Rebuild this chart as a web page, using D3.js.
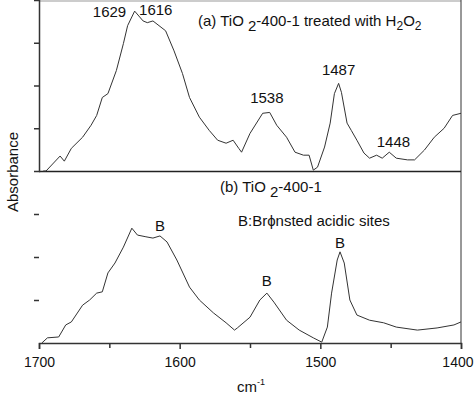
<!DOCTYPE html>
<html><head><meta charset="utf-8">
<script src="https://cdn.jsdelivr.net/npm/d3@7"></script>
<style>body{margin:0;background:#fff}text{font-family:"Liberation Sans",Arial,sans-serif;fill:#111}</style>
</head><body><div id="chart"></div>
<script>
var waveA = [1697,1695,1685,1682,1677,1669,1663,1659,1655,1651,1645,1640,1637,1632,1626,1623,1619,1610,1604,1598,1593,1586,1579,1573,1567,1562,1558,1556,1550,1541,1536,1531,1524,1518,1512,1508,1505,1502,1497,1493,1490,1487,1485,1481,1478,1474,1469,1465,1460,1456,1451,1446,1438,1433,1426,1419,1412,1406,1400];
var absA = [0,0,.35,.23,.53,.79,1.07,1.3,1.72,1.81,2.35,2.98,3.4,3.74,3.51,3.47,3.51,3.28,2.81,2.28,1.72,1.26,.95,.72,.65,.72,.53,.44,.88,1.35,1.37,1.07,.79,.44,.37,.37,.02,.09,.56,1.12,1.81,2.05,1.84,1.12,.95,.72,.42,.3,.37,.3,.44,.3,.26,.26,.49,.79,1.0,1.3,1.35];
var waveB = [1698,1694,1686,1681,1677,1669,1664,1659,1655,1651,1646,1640,1634,1630,1624,1619,1614,1609,1602,1593,1586,1576,1567,1561,1559,1550,1543,1538,1533,1524,1515,1505,1499,1495,1492,1488,1486,1483,1479,1474,1465,1455,1446,1431,1417,1405,1400];
var absB = [0,.12,.14,.42,.49,.88,1.0,1.16,1.19,1.63,1.86,2.23,2.67,2.51,2.47,2.44,2.49,2.35,1.93,1.3,1.0,.7,.47,.3,.35,.6,1.0,1.16,.95,.53,.3,.12,.02,.37,1.16,1.93,2.12,1.86,1.0,.65,.53,.47,.37,.3,.35,.42,.49];
var xTicks = [1700,1600,1500,1400];
var xMinor = [1650,1550,1450];
var peaksA = [{t:"1629",w:1638,v:3.6,a:"end"},{t:"1616",w:1617,v:3.65,a:"middle"},{t:"1538",w:1538,v:1.6,a:"middle"},{t:"1487",w:1487,v:2.25,a:"middle"},{t:"1448",w:1448,v:0.55,a:"middle"}];
var peaksB = [{w:1614,v:2.6},{w:1538,v:1.32},{w:1486,v:2.2}];

var W = 474, H = 402;
var svg = d3.select("#chart").append("svg").attr("width", W).attr("height", H);
var x = d3.scaleLinear().domain([1700,1400]).range([39,461]);
var yA = d3.scaleLinear().domain([0,4]).range([171,0]);
var yB = d3.scaleLinear().domain([0,4]).range([343,171]);

// frame
svg.append("line").attr("x1",39).attr("x2",461).attr("y1",1).attr("y2",1).attr("stroke","#ccc").attr("stroke-width",2);
svg.append("line").attr("x1",461).attr("x2",461).attr("y1",0).attr("y2",343).attr("stroke","#333");
svg.append("line").attr("x1",39).attr("x2",461).attr("y1",171.5).attr("y2",171.5).attr("stroke","#222").attr("stroke-width",1.5);

svg.append("g").attr("transform","translate(0,343)")
  .call(d3.axisBottom(x).tickValues(xTicks).tickFormat(d3.format("d")).tickSize(6).tickPadding(8));
svg.append("g").attr("transform","translate(0,343)")
  .call(d3.axisBottom(x).tickValues(xMinor).tickFormat("").tickSize(5)).select(".domain").remove();
svg.append("g").attr("transform","translate(39,0)")
  .call(d3.axisLeft(yA).tickValues([1,2,3]).tickFormat("").tickSize(5));
svg.append("g").attr("transform","translate(39,0)")
  .call(d3.axisLeft(yB).tickValues([1,2,3]).tickFormat("").tickSize(5)).select(".domain").remove();
svg.selectAll(".domain").attr("stroke","#333").attr("stroke-width",1.5);
svg.selectAll(".tick line").attr("stroke","#333").attr("stroke-width",1.5);
svg.selectAll(".tick text").style("font-size","14px").attr("fill","#111")
  .attr("text-anchor",function(d){return d == 1400 ? "end" : "middle";})
  .attr("dx",function(d){return d == 1400 ? 12 : 0;});

var lineA = d3.line().x(function(d,i){return x(waveA[i]);}).y(function(d){return yA(d);});
var lineB = d3.line().x(function(d,i){return x(waveB[i]);}).y(function(d){return yB(d);});
svg.append("path").attr("d", lineA(absA)).attr("fill","none").attr("stroke","#333").attr("stroke-width",1);
svg.append("path").attr("d", lineB(absB)).attr("fill","none").attr("stroke","#333").attr("stroke-width",1);

svg.selectAll(".pa").data(peaksA).enter().append("text")
  .attr("x",function(d){return x(d.w);}).attr("y",function(d){return yA(d.v);})
  .attr("text-anchor",function(d){return d.a;}).style("font-size","15px").text(function(d){return d.t;});
svg.selectAll(".pb").data(peaksB).enter().append("text")
  .attr("x",function(d){return x(d.w);}).attr("y",function(d){return yB(d.v);})
  .attr("text-anchor","middle").style("font-size","15px").text("B");

var ta = svg.append("text").attr("x",198).attr("y",26).style("font-size","15px");
ta.append("tspan").text("(a) TiO ");
ta.append("tspan").attr("dy",5).text("2");
ta.append("tspan").attr("dy",-5).text("-400-1 treated with H");
ta.append("tspan").attr("dy",4).style("font-size","12px").text("2");
ta.append("tspan").attr("dy",-4).text("O");
ta.append("tspan").attr("dy",4).style("font-size","12px").text("2");

var tb = svg.append("text").attr("x",220).attr("y",192).style("font-size","15px");
tb.append("tspan").text("(b) TiO ");
tb.append("tspan").attr("dy",5).text("2");
tb.append("tspan").attr("dy",-5).text("-400-1");
svg.append("text").attr("x",238).attr("y",226).style("font-size","15px").text("B:Br\u03d5nsted acidic sites");

svg.append("text").attr("transform","translate(18,172) rotate(-90)").attr("text-anchor","middle")
  .style("font-size","15px").text("Absorbance");
var tc = svg.append("text").attr("x",237).attr("y",392).style("font-size","15px");
tc.append("tspan").text("cm");
tc.append("tspan").attr("dy",-7).style("font-size","9px").text("-1");
</script></body></html>
